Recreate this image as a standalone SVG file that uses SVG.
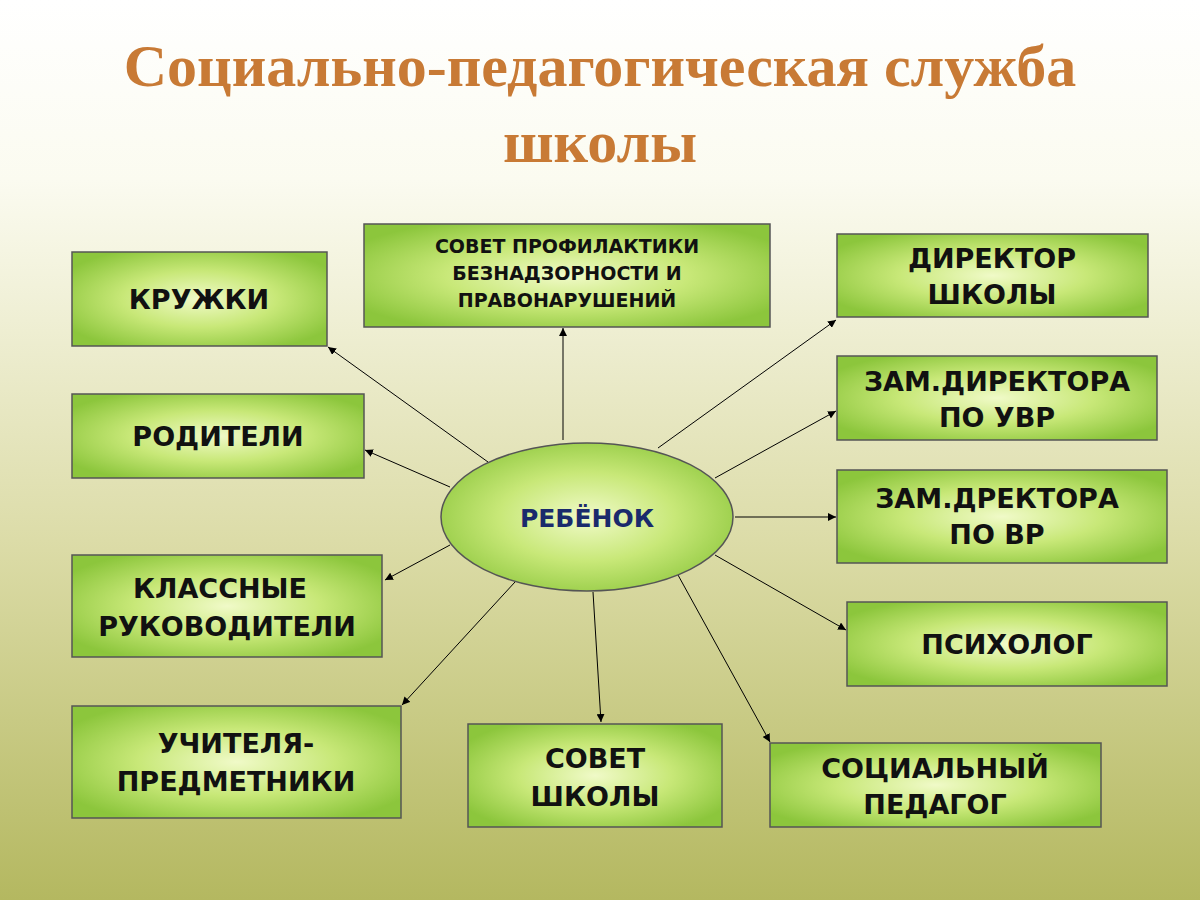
<svg xmlns="http://www.w3.org/2000/svg" width="1200" height="900" viewBox="0 0 1200 900">
<defs>
<linearGradient id="bg" x1="0" y1="0" x2="0" y2="1">
<stop offset="0" stop-color="#ffffff"/><stop offset="0.2" stop-color="#fbfbf0"/><stop offset="0.6" stop-color="#dcdca8"/><stop offset="1" stop-color="#b4b860"/>
</linearGradient>
<radialGradient id="g" cx="0.5" cy="0.5" r="0.6">
<stop offset="0" stop-color="#f0fac8"/><stop offset="0.5" stop-color="#c8e878"/><stop offset="1" stop-color="#8cc63c"/>
</radialGradient>
<marker id="ar" viewBox="0 0 10 10" refX="10" refY="5" markerWidth="8" markerHeight="8" orient="auto" markerUnits="userSpaceOnUse"><path d="M0,0 L10,5 L0,10 z" fill="#000"/></marker>
</defs>
<style>
.b{fill:url(#g);stroke:#555;stroke-width:1.5}
.t{font-family:"DejaVu Sans","Liberation Sans",sans-serif;font-weight:bold;font-size:27px;fill:#111;text-anchor:middle}
.s{font-size:19px}
.h{font-family:"Liberation Serif",serif;font-weight:bold;font-size:60px;fill:#c87a35;text-anchor:middle}
#conn line{stroke:#000;stroke-width:1;marker-end:url(#ar)}
</style>
<rect width="1200" height="900" fill="url(#bg)"/>
<text class="h" x="600" y="86">Социально-педагогическая служба</text>
<text class="h" x="600" y="162">школы</text>
<g id="conn">
<line x1="488" y1="462" x2="328" y2="347"/>
<line x1="450" y1="487" x2="365" y2="450"/>
<line x1="450" y1="545" x2="385" y2="580"/>
<line x1="515" y1="582" x2="402" y2="705"/>
<line x1="593" y1="592" x2="601" y2="722"/>
<line x1="678" y1="575" x2="770" y2="742"/>
<line x1="715" y1="555" x2="846" y2="630"/>
<line x1="735" y1="517" x2="836" y2="517"/>
<line x1="715" y1="478" x2="836" y2="411"/>
<line x1="658" y1="448" x2="836" y2="320"/>
<line x1="563" y1="440" x2="563" y2="328"/>
</g>
<g id="n1"><rect class="b" x="72" y="252" width="255" height="94"/><text class="t" x="199" y="309">КРУЖКИ</text></g>
<g id="n2"><rect class="b" x="364" y="224" width="406" height="103"/><text class="t s" x="567" y="253">СОВЕТ ПРОФИЛАКТИКИ</text><text class="t s" x="567" y="280">БЕЗНАДЗОРНОСТИ И</text><text class="t s" x="567" y="307">ПРАВОНАРУШЕНИЙ</text></g>
<g id="n3"><rect class="b" x="837" y="234" width="311" height="83"/><text class="t" x="992" y="268">ДИРЕКТОР</text><text class="t" x="992" y="304">ШКОЛЫ</text></g>
<g id="n4"><rect class="b" x="837" y="356" width="320" height="84"/><text class="t" x="997" y="391">ЗАМ.ДИРЕКТОРА</text><text class="t" x="997" y="427">ПО УВР</text></g>
<g id="n5"><rect class="b" x="837" y="470" width="330" height="93"/><text class="t" x="997" y="508">ЗАМ.ДРЕКТОРА</text><text class="t" x="997" y="544">ПО ВР</text></g>
<g id="n6"><rect class="b" x="847" y="602" width="320" height="84"/><text class="t" x="1007" y="654">ПСИХОЛОГ</text></g>
<g id="n7"><rect class="b" x="770" y="743" width="331" height="84"/><text class="t" x="935" y="778">СОЦИАЛЬНЫЙ</text><text class="t" x="935" y="814">ПЕДАГОГ</text></g>
<g id="n8"><rect class="b" x="468" y="724" width="254" height="103"/><text class="t" x="595" y="768">СОВЕТ</text><text class="t" x="595" y="806">ШКОЛЫ</text></g>
<g id="n9"><rect class="b" x="72" y="706" width="329" height="112"/><text class="t" x="236" y="753">УЧИТЕЛЯ-</text><text class="t" x="236" y="791">ПРЕДМЕТНИКИ</text></g>
<g id="n10"><rect class="b" x="72" y="555" width="310" height="102"/><text class="t" x="220" y="598">КЛАССНЫЕ</text><text class="t" x="227" y="636">РУКОВОДИТЕЛИ</text></g>
<g id="n11"><rect class="b" x="72" y="394" width="292" height="84"/><text class="t" x="218" y="446">РОДИТЕЛИ</text></g>
<g id="n0"><ellipse class="b" cx="587" cy="517" rx="146" ry="74"/><text class="t" x="587" y="527" style="fill:#1a2a6c;font-size:25px">РЕБЁНОК</text></g>
</svg>
